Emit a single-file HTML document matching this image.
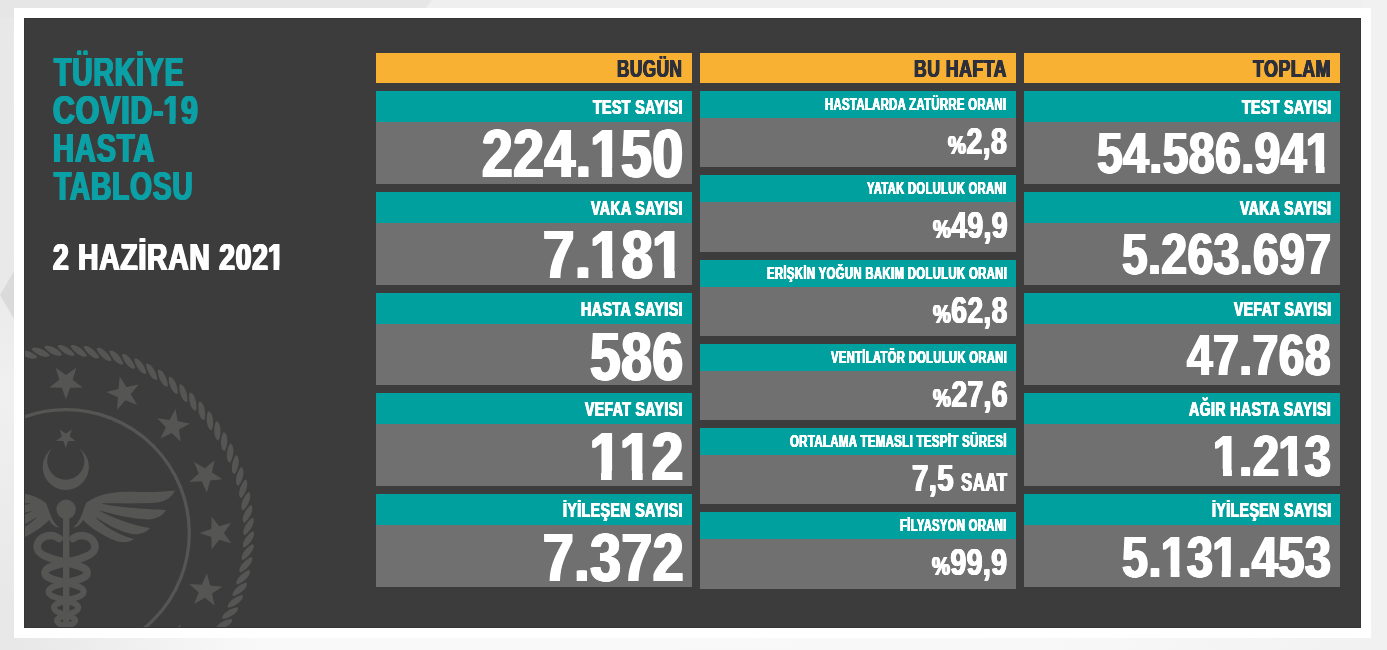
<!DOCTYPE html><html lang="tr"><head><meta charset="utf-8"><title>Türkiye COVID-19 Hasta Tablosu</title><style>
html,body{margin:0;padding:0}body{width:1387px;height:650px;position:relative;overflow:hidden;background:#efefef}
.bg{position:absolute;left:0;top:0}
.frame{position:absolute;left:14px;top:8px;width:1357px;height:630px;background:#fff}
.panel{position:absolute;left:24px;top:18px;width:1337px;height:610px;background:#3c3c3c;overflow:hidden}
.emb{position:absolute;left:0;top:0}.panel::after{content:"";position:absolute;left:0;top:0;right:0;bottom:0;border:1px solid #363636}
.b{position:absolute}.o{background:#f8b133}.k{background:#00a09f}.g{background:#707070}
.t{position:absolute;white-space:nowrap;font-weight:bold;line-height:1;transform-origin:0 0;font-family:'Liberation Sans', sans-serif;letter-spacing:0.03em;text-shadow:0.016em 0 0 currentColor,-0.016em 0 0 currentColor,0.032em 0 0 currentColor,-0.032em 0 0 currentColor} .p{font-size:26px} .q{display:inline-block;margin-left:-0.025em;margin-right:-0.01em;-webkit-mask-image:linear-gradient(#000,#000),linear-gradient(#000,#000);-webkit-mask-repeat:no-repeat;-webkit-mask-size:100% 0.715em,0.205em 100%;-webkit-mask-position:0 0,0.2em 0;mask-image:linear-gradient(#000,#000),linear-gradient(#000,#000);mask-repeat:no-repeat;mask-size:100% 0.715em,0.205em 100%;mask-position:0 0,0.2em 0} .n .q{-webkit-mask-size:100% 0.715em,0.189em 100%;-webkit-mask-position:0 0,0.208em 0;mask-size:100% 0.715em,0.189em 100%;mask-position:0 0,0.208em 0} .n{letter-spacing:0.012em;text-shadow:0.012em 0 0 currentColor,-0.012em 0 0 currentColor,0.024em 0 0 currentColor,-0.024em 0 0 currentColor}
</style></head><body><svg class="bg" width="1387" height="650" viewBox="0 0 1387 650">
<defs><linearGradient id="gb" x1="0" x2="1" y1="0" y2="0"><stop offset="0" stop-color="#e7e7e7"/><stop offset="0.06" stop-color="#ececec"/><stop offset="0.19" stop-color="#f9f9f9"/><stop offset="0.75" stop-color="#f8f8f8"/><stop offset="1" stop-color="#f1f1f1"/></linearGradient>
<linearGradient id="gl" x1="0" x2="0" y1="0" y2="1"><stop offset="0" stop-color="#e8e8e8"/><stop offset="0.42" stop-color="#e9e9e9"/><stop offset="0.6" stop-color="#f0f0f0"/><stop offset="1" stop-color="#e6e6e6"/></linearGradient></defs>
<rect width="1387" height="650" fill="#efefef"/>
<rect x="0" y="0" width="24" height="650" fill="url(#gl)"/>
<polygon points="0,0 432,0 418,18 0,18" fill="#e6e6e6"/>
<polygon points="0,295 14,271 14,319" fill="#dadada"/>
<rect x="1361" y="0" width="26" height="650" fill="#f1f1f1"/>
<rect x="0" y="628" width="1387" height="22" fill="url(#gb)"/>
</svg><div class="frame"></div><div class="panel">
<svg class="emb" width="1337" height="610" viewBox="24 18 1337 610"><g fill="#555554" stroke="none">
<path d="M-9.6 0.6C-9 -4 3 -4.4 9.6 -0.6C9 4 -3 4.4 -9.6 0.6Z" transform="translate(66.0 350.4) rotate(30.0)"/>
<path d="M-9.6 0.6C-9 -4 3 -4.4 9.6 -0.6C9 4 -3 4.4 -9.6 0.6Z" transform="translate(78.7 350.8) rotate(34.0)"/>
<path d="M-9.6 0.6C-9 -4 3 -4.4 9.6 -0.6C9 4 -3 4.4 -9.6 0.6Z" transform="translate(91.4 352.2) rotate(38.0)"/>
<path d="M-9.6 0.6C-9 -4 3 -4.4 9.6 -0.6C9 4 -3 4.4 -9.6 0.6Z" transform="translate(104.0 354.4) rotate(42.0)"/>
<path d="M-9.6 0.6C-9 -4 3 -4.4 9.6 -0.6C9 4 -3 4.4 -9.6 0.6Z" transform="translate(116.3 357.5) rotate(46.0)"/>
<path d="M-9.6 0.6C-9 -4 3 -4.4 9.6 -0.6C9 4 -3 4.4 -9.6 0.6Z" transform="translate(128.5 361.4) rotate(50.0)"/>
<path d="M-9.6 0.6C-9 -4 3 -4.4 9.6 -0.6C9 4 -3 4.4 -9.6 0.6Z" transform="translate(140.3 366.2) rotate(54.0)"/>
<path d="M-9.6 0.6C-9 -4 3 -4.4 9.6 -0.6C9 4 -3 4.4 -9.6 0.6Z" transform="translate(151.7 371.8) rotate(58.0)"/>
<path d="M-9.6 0.6C-9 -4 3 -4.4 9.6 -0.6C9 4 -3 4.4 -9.6 0.6Z" transform="translate(162.8 378.1) rotate(62.0)"/>
<path d="M-9.6 0.6C-9 -4 3 -4.4 9.6 -0.6C9 4 -3 4.4 -9.6 0.6Z" transform="translate(173.3 385.3) rotate(66.0)"/>
<path d="M-9.6 0.6C-9 -4 3 -4.4 9.6 -0.6C9 4 -3 4.4 -9.6 0.6Z" transform="translate(183.4 393.1) rotate(70.0)"/>
<path d="M-9.6 0.6C-9 -4 3 -4.4 9.6 -0.6C9 4 -3 4.4 -9.6 0.6Z" transform="translate(192.8 401.6) rotate(74.0)"/>
<path d="M-9.6 0.6C-9 -4 3 -4.4 9.6 -0.6C9 4 -3 4.4 -9.6 0.6Z" transform="translate(201.7 410.8) rotate(78.0)"/>
<path d="M-9.6 0.6C-9 -4 3 -4.4 9.6 -0.6C9 4 -3 4.4 -9.6 0.6Z" transform="translate(209.9 420.6) rotate(82.0)"/>
<path d="M-9.6 0.6C-9 -4 3 -4.4 9.6 -0.6C9 4 -3 4.4 -9.6 0.6Z" transform="translate(217.4 430.9) rotate(86.0)"/>
<path d="M-9.6 0.6C-9 -4 3 -4.4 9.6 -0.6C9 4 -3 4.4 -9.6 0.6Z" transform="translate(224.1 441.7) rotate(90.0)"/>
<path d="M-9.6 0.6C-9 -4 3 -4.4 9.6 -0.6C9 4 -3 4.4 -9.6 0.6Z" transform="translate(230.1 453.0) rotate(94.0)"/>
<path d="M-9.6 0.6C-9 -4 3 -4.4 9.6 -0.6C9 4 -3 4.4 -9.6 0.6Z" transform="translate(235.3 464.6) rotate(98.0)"/>
<path d="M-9.6 0.6C-9 -4 3 -4.4 9.6 -0.6C9 4 -3 4.4 -9.6 0.6Z" transform="translate(239.7 476.6) rotate(102.0)"/>
<path d="M-9.6 0.6C-9 -4 3 -4.4 9.6 -0.6C9 4 -3 4.4 -9.6 0.6Z" transform="translate(243.2 488.8) rotate(106.0)"/>
<path d="M-9.6 0.6C-9 -4 3 -4.4 9.6 -0.6C9 4 -3 4.4 -9.6 0.6Z" transform="translate(245.8 501.3) rotate(110.0)"/>
<path d="M-9.6 0.6C-9 -4 3 -4.4 9.6 -0.6C9 4 -3 4.4 -9.6 0.6Z" transform="translate(247.6 513.9) rotate(114.0)"/>
<path d="M-9.6 0.6C-9 -4 3 -4.4 9.6 -0.6C9 4 -3 4.4 -9.6 0.6Z" transform="translate(248.5 526.6) rotate(118.0)"/>
<path d="M-9.6 0.6C-9 -4 3 -4.4 9.6 -0.6C9 4 -3 4.4 -9.6 0.6Z" transform="translate(248.5 539.4) rotate(122.0)"/>
<path d="M-9.6 0.6C-9 -4 3 -4.4 9.6 -0.6C9 4 -3 4.4 -9.6 0.6Z" transform="translate(247.6 552.1) rotate(126.0)"/>
<path d="M-9.6 0.6C-9 -4 3 -4.4 9.6 -0.6C9 4 -3 4.4 -9.6 0.6Z" transform="translate(245.8 564.7) rotate(130.0)"/>
<path d="M-9.6 0.6C-9 -4 3 -4.4 9.6 -0.6C9 4 -3 4.4 -9.6 0.6Z" transform="translate(243.2 577.2) rotate(134.0)"/>
<path d="M-9.6 0.6C-9 -4 3 -4.4 9.6 -0.6C9 4 -3 4.4 -9.6 0.6Z" transform="translate(239.7 589.4) rotate(138.0)"/>
<path d="M-9.6 0.6C-9 -4 3 -4.4 9.6 -0.6C9 4 -3 4.4 -9.6 0.6Z" transform="translate(235.3 601.4) rotate(142.0)"/>
<path d="M-9.6 0.6C-9 -4 3 -4.4 9.6 -0.6C9 4 -3 4.4 -9.6 0.6Z" transform="translate(230.1 613.0) rotate(146.0)"/>
<path d="M-9.6 0.6C-9 -4 3 -4.4 9.6 -0.6C9 4 -3 4.4 -9.6 0.6Z" transform="translate(224.1 624.3) rotate(150.0)"/>
<path d="M-9.6 0.6C-9 -4 3 -4.4 9.6 -0.6C9 4 -3 4.4 -9.6 0.6Z" transform="translate(217.4 635.1) rotate(154.0)"/>
<path d="M-9.6 0.6C-9 -4 3 -4.4 9.6 -0.6C9 4 -3 4.4 -9.6 0.6Z" transform="translate(15.7 357.5) rotate(374.0)"/>
<path d="M-9.6 0.6C-9 -4 3 -4.4 9.6 -0.6C9 4 -3 4.4 -9.6 0.6Z" transform="translate(28.0 354.4) rotate(378.0)"/>
<path d="M-9.6 0.6C-9 -4 3 -4.4 9.6 -0.6C9 4 -3 4.4 -9.6 0.6Z" transform="translate(40.6 352.2) rotate(382.0)"/>
<path d="M-9.6 0.6C-9 -4 3 -4.4 9.6 -0.6C9 4 -3 4.4 -9.6 0.6Z" transform="translate(53.3 350.8) rotate(386.0)"/>
<polygon points="66.0,399.5 61.9,387.7 49.4,387.4 59.3,379.8 55.7,367.8 66.0,375.0 76.3,367.8 72.7,379.8 82.6,387.4 70.1,387.7"/>
<polygon points="117.1,409.7 117.8,397.2 106.3,392.1 118.5,388.9 119.7,376.5 126.5,387.0 138.7,384.4 130.8,394.0 137.1,404.9 125.4,400.3"/>
<polygon points="160.4,438.6 165.9,427.3 157.2,418.3 169.6,420.0 175.5,408.9 177.7,421.3 190.1,423.5 179.0,429.4 180.7,441.8 171.7,433.1"/>
<polygon points="189.3,481.9 198.7,473.6 194.1,461.9 205.0,468.2 214.6,460.3 212.0,472.5 222.5,479.3 210.1,480.5 206.9,492.7 201.8,481.2"/>
<polygon points="199.5,533.0 211.3,528.9 211.6,516.4 219.2,526.3 231.2,522.7 224.0,533.0 231.2,543.3 219.2,539.7 211.6,549.6 211.3,537.1"/>
<polygon points="189.3,584.1 201.8,584.8 206.9,573.3 210.1,585.5 222.5,586.7 212.0,593.5 214.6,605.7 205.0,597.8 194.1,604.1 198.7,592.4"/>
<polygon points="160.4,627.4 171.7,632.9 180.7,624.2 179.0,636.6 190.1,642.5 177.7,644.7 175.5,657.1 169.6,646.0 157.2,647.7 165.9,638.7"/>
<polygon points="14.9,409.7 6.6,400.3 -5.1,404.9 1.2,394.0 -6.7,384.4 5.5,387.0 12.3,376.5 13.5,388.9 25.7,392.1 14.2,397.2"/>
<polygon points="65.8,448.0 63.4,441.0 56.0,440.9 61.9,436.4 59.7,429.4 65.8,433.6 71.9,429.4 69.7,436.4 75.6,440.9 68.2,441.0"/>
<path d="M52.5 448.1A23.1 23.1 0 1 0 79.1 448.1A18.6 18.6 0 1 1 52.5 448.1Z"/>
</g>
<circle cx="66" cy="533" r="123.3" fill="none" stroke="#555554" stroke-width="3.3"/>
<g fill="#555554">
<circle cx="66.1" cy="509.3" r="9.7"/>
<rect x="63" y="509" width="6.4" height="125"/>
<path d="M86 503 C100 492 120 491 140 492 C155 492.5 168 491 175 490.5 C172 497 166 501 158 502.5 C140 504 115 503 101 503.5 C120 508 150 509 166 510 C163 516 156 519 148 519.5 C132 519 112 514 99 510.5 C112 518 135 526 150 528 C146 533 139 535 132 534 C118 531 105 523 95 517 C104 526 120 536 134 539 C129 543 122 543 116 541 C101 535 90 527 83 520 C81 524 78 527 73 527.5 C80 522 82 514 86 503 Z"/>
<path d="M86 503 C100 492 120 491 140 492 C155 492.5 168 491 175 490.5 C172 497 166 501 158 502.5 C140 504 115 503 101 503.5 C120 508 150 509 166 510 C163 516 156 519 148 519.5 C132 519 112 514 99 510.5 C112 518 135 526 150 528 C146 533 139 535 132 534 C118 531 105 523 95 517 C104 526 120 536 134 539 C129 543 122 543 116 541 C101 535 90 527 83 520 C81 524 78 527 73 527.5 C80 522 82 514 86 503 Z" transform="translate(132.2 0) scale(-1 1)"/>
</g>
<g fill="none" stroke="#555554" stroke-linecap="round" stroke-linejoin="round">
<path d="M59.1 538.5 C52.1 533 39.1 535 37.1 546 C36.1 556 54.1 559 66.1 562.5 C80.1 566 88.1 568 87.1 573.5 C86.1 579 74.1 580.5 66.1 583" stroke-width="7.6"/><path d="M66.1 583 C57.1 585.5 48.1 587 48.6 592 C49.1 597 59.1 598 66.1 600.5 C73.1 603 78.6 604 78.1 608 C77.6 612 71.1 613 66.1 615 C61.1 617 56.6 618 57.1 621 C57.6 624 62.1 625 66.1 626.5 C70.1 628 73.6 629 73.1 633" stroke-width="6"/>
<path d="M73.1 538.5 C80.1 533 93.1 535 95.1 546 C96.1 556 78.1 559 66.1 562.5 C52.1 566 44.1 568 45.1 573.5 C46.1 579 58.1 580.5 66.1 583" stroke-width="7.6"/><path d="M66.1 583 C75.1 585.5 84.1 587 83.6 592 C83.1 597 73.1 598 66.1 600.5 C59.1 603 53.6 604 54.1 608 C54.6 612 61.1 613 66.1 615 C71.1 617 75.6 618 75.1 621 C74.6 624 70.1 625 66.1 626.5 C62.1 628 58.6 629 59.1 633" stroke-width="6"/>
</g></svg>
</div>
<main>
<header>
<div class="t " style="left:53.63px;top:52.00px;font-size:40px;color:#0ba0a5;transform:scaleX(0.7083)">TÜRKİYE</div>
<div class="t " style="left:53.31px;top:90.00px;font-size:40px;color:#0ba0a5;transform:scaleX(0.7560)">COVID-<span class="q">1</span>9</div>
<div class="t " style="left:52.51px;top:128.00px;font-size:40px;color:#0ba0a5;transform:scaleX(0.7248)">HASTA</div>
<div class="t " style="left:53.83px;top:166.00px;font-size:40px;color:#0ba0a5;transform:scaleX(0.7016)">TABLOSU</div>
<div class="t " style="left:52.70px;top:239.00px;font-size:37.5px;color:#fff;transform:scaleX(0.7500)">2 HAZİRAN 202<span class="q">1</span></div>
</header>
<section aria-label="Bugün">
<div class="b o" style="left:376px;top:53px;width:316px;height:30px"></div>
<div class="t " style="left:617.26px;top:57.00px;font-size:24px;color:#2c2f3c;transform:scaleX(0.7148)">BUGÜN</div>
<article>
<div class="b g" style="left:376px;top:91px;width:316px;height:93px"></div>
<div class="b k" style="left:376px;top:91px;width:316px;height:31px"></div>
<div class="t " style="left:593.24px;top:96.00px;font-size:21px;color:#fff;transform:scaleX(0.6740)">TEST SAYISI</div>
<div class="t n" style="left:481.89px;top:119.00px;font-size:68px;color:#fff;transform:scaleX(0.8093)">224.<span class="q">1</span>50</div>
</article>
<article>
<div class="b g" style="left:376px;top:192px;width:316px;height:93px"></div>
<div class="b k" style="left:376px;top:192px;width:316px;height:31px"></div>
<div class="t " style="left:591.34px;top:197.00px;font-size:21px;color:#fff;transform:scaleX(0.6706)">VAKA SAYISI</div>
<div class="t n" style="left:542.86px;top:220.00px;font-size:68px;color:#fff;transform:scaleX(0.8298)">7.<span class="q">1</span>8<span class="q">1</span></div>
</article>
<article>
<div class="b g" style="left:376px;top:293px;width:316px;height:92px"></div>
<div class="b k" style="left:376px;top:293px;width:316px;height:31px"></div>
<div class="t " style="left:581.09px;top:298.00px;font-size:21px;color:#fff;transform:scaleX(0.6786)">HASTA SAYISI</div>
<div class="t n" style="left:589.70px;top:322.00px;font-size:68px;color:#fff;transform:scaleX(0.8079)">586</div>
</article>
<article>
<div class="b g" style="left:376px;top:393px;width:316px;height:93px"></div>
<div class="b k" style="left:376px;top:393px;width:316px;height:31px"></div>
<div class="t " style="left:585.43px;top:398.00px;font-size:21px;color:#fff;transform:scaleX(0.6674)">VEFAT SAYISI</div>
<div class="t n" style="left:590.95px;top:422.00px;font-size:68px;color:#fff;transform:scaleX(0.8361)"><span class="q">1</span><span class="q">1</span>2</div>
</article>
<article>
<div class="b g" style="left:376px;top:494px;width:316px;height:93px"></div>
<div class="b k" style="left:376px;top:494px;width:316px;height:31px"></div>
<div class="t " style="left:563.29px;top:499.00px;font-size:21px;color:#fff;transform:scaleX(0.6737)">İYİLEŞEN SAYISI</div>
<div class="t n" style="left:542.89px;top:523.00px;font-size:68px;color:#fff;transform:scaleX(0.8099)">7.372</div>
</article>
</section>
<section aria-label="Bu hafta">
<div class="b o" style="left:700px;top:53px;width:316px;height:30px"></div>
<div class="t " style="left:913.95px;top:57.00px;font-size:24px;color:#2c2f3c;transform:scaleX(0.7337)">BU HAFTA</div>
<article>
<div class="b g" style="left:700px;top:91px;width:316px;height:76px"></div>
<div class="b k" style="left:700px;top:91px;width:316px;height:27px"></div>
<div class="t " style="left:825.45px;top:97.00px;font-size:16px;color:#fff;transform:scaleX(0.7071)">HASTALARDA ZATÜRRE ORANI</div>
<div class="t n" style="left:948.40px;top:124.00px;font-size:36.5px;color:#fff;transform:scaleX(0.7827)"><span class="p">%</span>2,8</div>
</article>
<article>
<div class="b g" style="left:700px;top:175px;width:316px;height:77px"></div>
<div class="b k" style="left:700px;top:175px;width:316px;height:27px"></div>
<div class="t " style="left:867.48px;top:181.00px;font-size:16px;color:#fff;transform:scaleX(0.7001)">YATAK DOLULUK ORANI</div>
<div class="t n" style="left:932.59px;top:208.00px;font-size:36.5px;color:#fff;transform:scaleX(0.7770)"><span class="p">%</span>49,9</div>
</article>
<article>
<div class="b g" style="left:700px;top:260px;width:316px;height:76px"></div>
<div class="b k" style="left:700px;top:260px;width:316px;height:27px"></div>
<div class="t " style="left:766.65px;top:266.00px;font-size:16px;color:#fff;transform:scaleX(0.7084)">ERİŞKİN YOĞUN BAKIM DOLULUK ORANI</div>
<div class="t n" style="left:932.59px;top:293.00px;font-size:36.5px;color:#fff;transform:scaleX(0.7750)"><span class="p">%</span>62,8</div>
</article>
<article>
<div class="b g" style="left:700px;top:344px;width:316px;height:76px"></div>
<div class="b k" style="left:700px;top:344px;width:316px;height:27px"></div>
<div class="t " style="left:830.65px;top:350.00px;font-size:16px;color:#fff;transform:scaleX(0.7011)">VENTİLATÖR DOLULUK ORANI</div>
<div class="t n" style="left:932.59px;top:377.00px;font-size:36.5px;color:#fff;transform:scaleX(0.7770)"><span class="p">%</span>27,6</div>
</article>
<article>
<div class="b g" style="left:700px;top:428px;width:316px;height:76px"></div>
<div class="b k" style="left:700px;top:428px;width:316px;height:27px"></div>
<div class="t " style="left:790.02px;top:434.00px;font-size:16px;color:#fff;transform:scaleX(0.7149)">ORTALAMA TEMASLI TESPİT SÜRESİ</div>
<div class="t n" style="left:911.50px;top:461.00px;font-size:36.5px;color:#fff;transform:scaleX(0.8059)">7,5</div>
<div class="t " style="left:960.90px;top:470.00px;font-size:25px;color:#fff;transform:scaleX(0.6725)">SAAT</div>
</article>
<article>
<div class="b g" style="left:700px;top:512px;width:316px;height:77px"></div>
<div class="b k" style="left:700px;top:512px;width:316px;height:27px"></div>
<div class="t " style="left:900.25px;top:518.00px;font-size:16px;color:#fff;transform:scaleX(0.7022)">FİLYASYON ORANI</div>
<div class="t n" style="left:932.30px;top:545.00px;font-size:36.5px;color:#fff;transform:scaleX(0.7822)"><span class="p">%</span>99,9</div>
</article>
</section>
<section aria-label="Toplam">
<div class="b o" style="left:1024px;top:53px;width:316px;height:30px"></div>
<div class="t " style="left:1252.97px;top:57.00px;font-size:24px;color:#2c2f3c;transform:scaleX(0.7415)">TOPLAM</div>
<article>
<div class="b g" style="left:1024px;top:91px;width:316px;height:93px"></div>
<div class="b k" style="left:1024px;top:91px;width:316px;height:31px"></div>
<div class="t " style="left:1241.54px;top:96.00px;font-size:21px;color:#fff;transform:scaleX(0.6717)">TEST SAYISI</div>
<div class="t n" style="left:1096.60px;top:125.00px;font-size:57.5px;color:#fff;transform:scaleX(0.8018)">54.586.94<span class="q">1</span></div>
</article>
<article>
<div class="b g" style="left:1024px;top:192px;width:316px;height:93px"></div>
<div class="b k" style="left:1024px;top:192px;width:316px;height:31px"></div>
<div class="t " style="left:1239.73px;top:197.00px;font-size:21px;color:#fff;transform:scaleX(0.6676)">VAKA SAYISI</div>
<div class="t n" style="left:1122.20px;top:226.00px;font-size:57.5px;color:#fff;transform:scaleX(0.7996)">5.263.697</div>
</article>
<article>
<div class="b g" style="left:1024px;top:293px;width:316px;height:92px"></div>
<div class="b k" style="left:1024px;top:293px;width:316px;height:31px"></div>
<div class="t " style="left:1233.53px;top:298.00px;font-size:21px;color:#fff;transform:scaleX(0.6667)">VEFAT SAYISI</div>
<div class="t n" style="left:1187.30px;top:327.00px;font-size:57.5px;color:#fff;transform:scaleX(0.8000)">47.768</div>
</article>
<article>
<div class="b g" style="left:1024px;top:393px;width:316px;height:93px"></div>
<div class="b k" style="left:1024px;top:393px;width:316px;height:31px"></div>
<div class="t " style="left:1188.87px;top:398.00px;font-size:21px;color:#fff;transform:scaleX(0.6714)">AĞIR HASTA SAYISI</div>
<div class="t n" style="left:1214.18px;top:428.00px;font-size:57.5px;color:#fff;transform:scaleX(0.8191)"><span class="q">1</span>.2<span class="q">1</span>3</div>
</article>
<article>
<div class="b g" style="left:1024px;top:494px;width:316px;height:93px"></div>
<div class="b k" style="left:1024px;top:494px;width:316px;height:31px"></div>
<div class="t " style="left:1211.50px;top:499.00px;font-size:21px;color:#fff;transform:scaleX(0.6725)">İYİLEŞEN SAYISI</div>
<div class="t n" style="left:1122.19px;top:529.00px;font-size:57.5px;color:#fff;transform:scaleX(0.8113)">5.<span class="q">1</span>3<span class="q">1</span>.453</div>
</article>
</section>
</main>
</body></html>
